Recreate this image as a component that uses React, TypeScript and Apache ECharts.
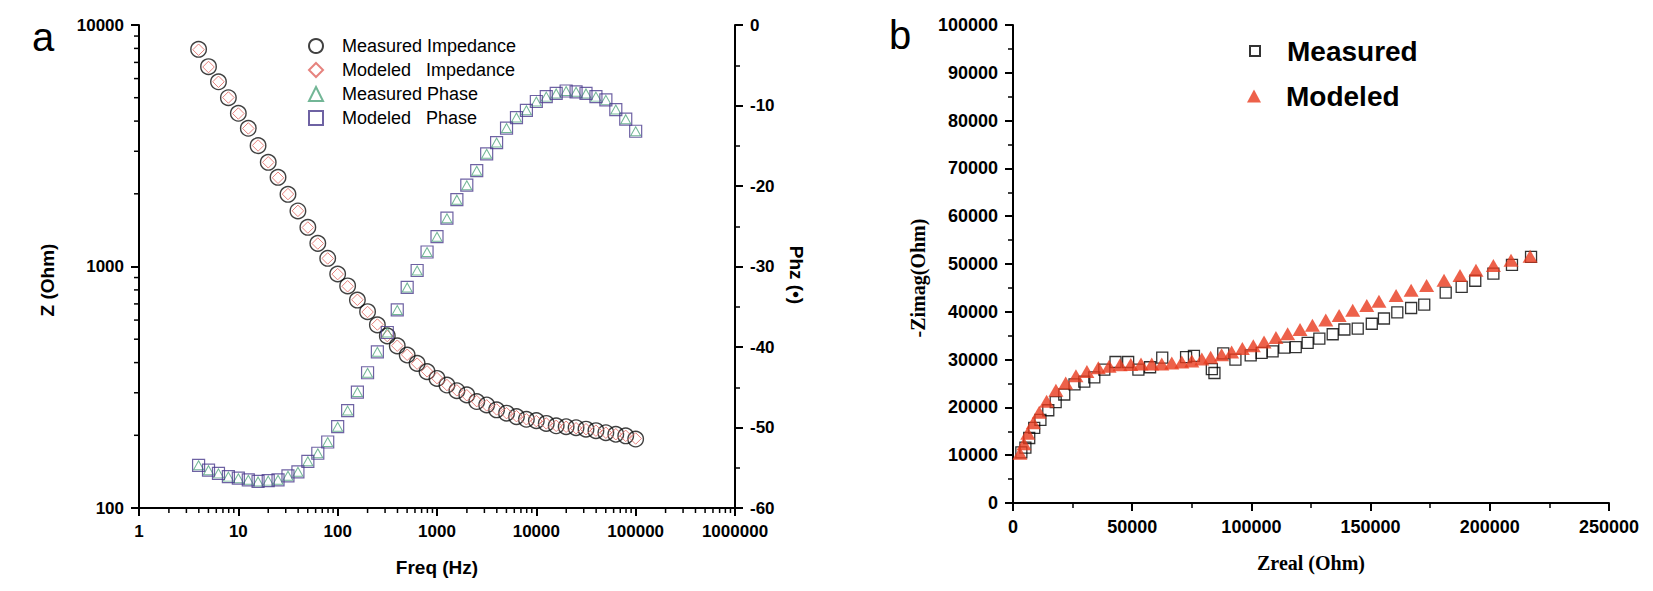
import React, { useEffect, useRef } from "react";
import * as echarts from "echarts";

// ---------- Panel a : Bode plot ----------
const FREQ = [
  3.98, 5.01, 6.31, 7.94, 10, 12.6, 15.8, 20.0, 25.1, 31.6, 39.8, 50.1, 63.1, 79.4, 100,
  126, 158, 200, 251, 316, 398, 501, 631, 794, 1000, 1259, 1585, 1995, 2512, 3162,
  3981, 5012, 6310, 7943, 10000, 12589, 15849, 19953, 25119, 31623, 39811, 50119, 63096, 79433, 100000,
];
const Z_MEASURED = [
  7930, 6720, 5820, 5000, 4310, 3735, 3165, 2700, 2340, 1990, 1698, 1453, 1247, 1081, 931,
  831, 726, 650, 573, 516, 469, 430, 397, 367, 344, 323, 306, 294, 276, 267,
  255, 247, 239, 233, 230, 224, 219, 217, 215, 212, 209, 205, 202, 199, 193,
];
const Z_MODELED = [
  7900, 6700, 5820, 5010, 4300, 3730, 3170, 2700, 2330, 1995, 1700, 1450, 1245, 1080, 930,
  828, 728, 648, 575, 515, 470, 431, 396, 368, 345, 323, 307, 293, 277, 266,
  256, 247, 240, 233, 229, 224, 219, 217, 214, 212, 209, 205, 202, 199, 194,
];
const PHASE_MEASURED = [
  -54.7, -55.3, -55.7, -56.1, -56.3, -56.5, -56.7, -56.6, -56.5, -56.0, -55.5, -54.2, -53.2, -51.8, -49.9,
  -47.9, -45.6, -43.2, -40.6, -38.2, -35.4, -32.6, -30.5, -28.2, -26.3, -24.0, -21.7, -19.9, -18.1, -16.0,
  -14.6, -12.8, -11.5, -10.6, -9.5, -8.9, -8.5, -8.2, -8.3, -8.5, -8.9, -9.3, -10.5, -11.7, -13.2,
];
const PHASE_MODELED = [
  -54.7, -55.3, -55.7, -56.1, -56.3, -56.5, -56.7, -56.6, -56.5, -56.0, -55.5, -54.2, -53.2, -51.8, -49.9,
  -47.9, -45.6, -43.2, -40.6, -38.2, -35.4, -32.6, -30.5, -28.2, -26.3, -24.0, -21.7, -19.9, -18.1, -16.0,
  -14.6, -12.8, -11.5, -10.6, -9.5, -8.9, -8.5, -8.2, -8.3, -8.5, -8.9, -9.3, -10.5, -11.7, -13.2,
];
const LOG_X_MINOR_TICKS = [
  2, 3, 4, 5, 6, 7, 8, 9,
  20, 30, 40, 50, 60, 70, 80, 90,
  200, 300, 400, 500, 600, 700, 800, 900,
  2000, 3000, 4000, 5000, 6000, 7000, 8000, 9000,
  20000, 30000, 40000, 50000, 60000, 70000, 80000, 90000,
  200000, 300000, 400000, 500000, 600000, 700000, 800000, 900000,
];
const LOG_Y_MINOR_TICKS = [200, 300, 400, 500, 600, 700, 800, 900, 2000, 3000, 4000, 5000, 6000, 7000, 8000, 9000];
const LEGEND_A = ["Measured Impedance", "Modeled   Impedance", "Measured Phase", "Modeled   Phase"];

// ---------- Panel b : Nyquist plot ----------
const ZREAL_MEASURED = [
  3500, 5200, 6800, 8900, 11500, 14800, 17900, 21500, 25800, 29900, 34100, 38300, 43000, 48300, 52600,
  57500, 62600, 72600, 75900, 83400, 84500, 88200, 93300, 99700, 104300, 108900, 113800, 118600, 123600, 128500,
  134100, 139000, 144600, 150500, 155600, 161200, 167000, 172500, 181500, 188200, 193900, 201500, 209300, 217300,
];
const ZIMAG_MEASURED = [
  10600, 11600, 13600, 15700, 17400, 19400, 21100, 22700, 24800, 25400, 26300, 27900, 29500, 29500, 27900,
  28400, 30400, 30500, 30800, 28000, 27200, 31300, 30000, 30900, 31400, 31700, 32500, 32600, 33500, 34400,
  35300, 36300, 36500, 37500, 38600, 39900, 40800, 41500, 44000, 45200, 46500, 48000, 49800, 51500,
];
const ZREAL_MODELED = [
  2900, 4600, 6200, 8500, 11000, 14100, 18000, 22100, 26400, 31000, 35800, 40300, 44900, 49400, 53700,
  58200, 62400, 66600, 70800, 75000, 79200, 82900, 87500, 91700, 96200, 100800, 105300, 110300, 115200, 120400,
  125600, 131200, 136800, 142500, 148400, 153500, 160700, 167000, 173500, 180800, 187500, 194200, 201500, 208900, 216900,
];
const ZIMAG_MODELED = [
  10400, 12400, 14600, 16800, 19000, 21300, 23600, 25100, 26600, 27500, 28300, 28600, 28900, 29000, 29100,
  29100, 29100, 29300, 29500, 29700, 30100, 30500, 31000, 31600, 32300, 32900, 33700, 34600, 35400, 36300,
  37200, 38300, 39200, 40300, 41300, 42200, 43400, 44500, 45500, 46600, 47600, 48700, 49700, 50800, 51600,
];

const SANS = "'Liberation Sans', Arial, sans-serif";
const SERIF = "'Liberation Serif', 'Times New Roman', serif";

const zip = (a: number[], b: number[]) => a.map((v, i) => [v, b[i]]);

const hollow = (color: string, width = 1) => ({
  color: "rgba(0,0,0,0)",
  borderColor: color,
  borderWidth: width,
});

const axisBase = (labelSize: number) => ({
  axisLine: { show: true, onZero: false, lineStyle: { color: "#000", width: 2 } },
  axisTick: { show: true, inside: false, length: 8, lineStyle: { color: "#000", width: 2 } },
  axisLabel: {
    color: "#000",
    fontFamily: SANS,
    fontWeight: "bold" as const,
    fontSize: labelSize,
    margin: 15,
    formatter: (v: number) => String(Math.round(v)),
  },
  splitLine: { show: false },
});

export default function App() {
  const ref = useRef<HTMLDivElement>(null);

  useEffect(() => {
    if (!ref.current) return;
    const chart = echarts.init(ref.current, undefined, { renderer: "svg" });

    const xMinor = (_p: any, api: any) => {
      const pt = api.coord([api.value(0), api.value(1)]);
      return {
        type: "line",
        shape: { x1: pt[0], y1: pt[1], x2: pt[0], y2: pt[1] + 5 },
        style: { stroke: "#000", lineWidth: 1.5 },
      };
    };
    const yMinor = (_p: any, api: any) => {
      const pt = api.coord([api.value(0), api.value(1)]);
      return {
        type: "line",
        shape: { x1: pt[0], y1: pt[1], x2: pt[0] - 5, y2: pt[1] },
        style: { stroke: "#000", lineWidth: 1.5 },
      };
    };

    const nameStyle = (family: string, size: number, padding: number[]) => ({
      color: "#000",
      fontFamily: family,
      fontWeight: "bold" as const,
      fontSize: size,
      padding,
    });

    const legendA = (name: string, top: number) => ({
      orient: "vertical",
      left: 308,
      top,
      padding: 0,
      itemWidth: 14,
      itemHeight: 14,
      selectedMode: false,
      data: [name],
      textStyle: { color: "#000", fontFamily: SANS, fontSize: 18, padding: [0, 0, 0, 14] },
    });

    const option: any = {
      animation: false,
      backgroundColor: "#fff",
      grid: [
        { left: 139, top: 25, width: 596, height: 483 },
        { left: 1013, top: 25, width: 596, height: 478 },
      ],
      xAxis: [
        {
          ...axisBase(17),
          type: "log",
          logBase: 10,
          gridIndex: 0,
          min: 1,
          max: 1000000,
          name: "Freq (Hz)",
          nameLocation: "middle",
          nameGap: 50,
          nameTextStyle: nameStyle(SANS, 19, [0, 0, 0, 0]),
        },
        {
          ...axisBase(18),
          type: "value",
          gridIndex: 1,
          min: 0,
          max: 250000,
          interval: 50000,
          minorTick: { show: true, splitNumber: 2, length: 5, lineStyle: { color: "#000", width: 1.5 } },
          name: "Zreal (Ohm)",
          nameLocation: "middle",
          nameGap: 50,
          nameTextStyle: nameStyle(SERIF, 20, [0, 0, 0, 0]),
        },
      ],
      yAxis: [
        {
          ...axisBase(17),
          type: "log",
          logBase: 10,
          gridIndex: 0,
          min: 100,
          max: 10000,
          name: "Z (Ohm)",
          nameLocation: "middle",
          nameGap: 82,
          nameTextStyle: nameStyle(SANS, 19, [0, 27, 0, 0]),
        },
        {
          ...axisBase(17),
          type: "value",
          gridIndex: 0,
          position: "right",
          min: -60,
          max: 0,
          interval: 10,
          minorTick: { show: true, splitNumber: 2, length: 5, lineStyle: { color: "#000", width: 1.5 } },
          name: "Phz (•)",
          nameLocation: "middle",
          nameRotate: -90,
          nameGap: 52,
          nameTextStyle: nameStyle(SANS, 19, [0, 0, 0, 17]),
        },
        {
          ...axisBase(18),
          type: "value",
          gridIndex: 1,
          min: 0,
          max: 100000,
          interval: 10000,
          minorTick: { show: true, splitNumber: 2, length: 5, lineStyle: { color: "#000", width: 1.5 } },
          name: "-Zimag(Ohm)",
          nameLocation: "middle",
          nameGap: 85,
          nameTextStyle: nameStyle(SERIF, 20, [0, 28, 0, 0]),
        },
      ],
      legend: [
        legendA(LEGEND_A[0], 37),
        legendA(LEGEND_A[1], 61),
        legendA(LEGEND_A[2], 85),
        legendA(LEGEND_A[3], 109),
        {
          orient: "vertical",
          left: 1249,
          top: 37,
          padding: 0,
          itemWidth: 10,
          itemHeight: 10,
          selectedMode: false,
          data: ["Measured"],
          textStyle: { color: "#000", fontFamily: SANS, fontWeight: "bold", fontSize: 28, padding: [0, 0, 0, 22] },
        },
        {
          orient: "vertical",
          left: 1247,
          top: 82,
          padding: 0,
          itemWidth: 14,
          itemHeight: 13,
          selectedMode: false,
          data: ["Modeled"],
          textStyle: { color: "#000", fontFamily: SANS, fontWeight: "bold", fontSize: 28, padding: [0, 0, 0, 20] },
        },
      ],
      graphic: [
        {
          type: "text",
          left: 32,
          top: 17,
          style: { text: "a", font: `40px ${SANS}`, fill: "#000" },
        },
        {
          type: "text",
          left: 889,
          top: 15,
          style: { text: "b", font: `40px ${SANS}`, fill: "#000" },
        },
      ],
      series: [
        {
          type: "custom",
          name: "xMinor",
          xAxisIndex: 0,
          yAxisIndex: 0,
          silent: true,
          clip: false,
          renderItem: xMinor,
          data: LOG_X_MINOR_TICKS.map((v) => [v, 100]),
        },
        {
          type: "custom",
          name: "yMinor",
          xAxisIndex: 0,
          yAxisIndex: 0,
          silent: true,
          clip: false,
          renderItem: yMinor,
          data: LOG_Y_MINOR_TICKS.map((v) => [1, v]),
        },
        {
          type: "scatter",
          name: LEGEND_A[0],
          xAxisIndex: 0,
          yAxisIndex: 0,
          symbol: "circle",
          symbolSize: 15.5,
          itemStyle: hollow("#111", 1.4),
          data: zip(FREQ, Z_MEASURED),
        },
        {
          type: "scatter",
          name: LEGEND_A[1],
          xAxisIndex: 0,
          yAxisIndex: 0,
          symbol: "diamond",
          symbolSize: 11.5,
          itemStyle: hollow("#e0645e", 1),
          data: zip(FREQ, Z_MODELED),
        },
        {
          type: "scatter",
          name: LEGEND_A[2],
          xAxisIndex: 0,
          yAxisIndex: 1,
          symbol: "triangle",
          symbolSize: [10, 9],
          itemStyle: hollow("#4fa47c", 1),
          data: zip(FREQ, PHASE_MEASURED),
        },
        {
          type: "scatter",
          name: LEGEND_A[3],
          xAxisIndex: 0,
          yAxisIndex: 1,
          symbol: "rect",
          symbolSize: 12,
          itemStyle: hollow("#4a3b8c", 1.2),
          data: zip(FREQ, PHASE_MODELED),
        },
        {
          type: "scatter",
          name: "Measured",
          xAxisIndex: 1,
          yAxisIndex: 2,
          symbol: "rect",
          symbolSize: 11,
          itemStyle: hollow("#000", 1.3),
          data: zip(ZREAL_MEASURED, ZIMAG_MEASURED),
        },
        {
          type: "scatter",
          name: "Modeled",
          xAxisIndex: 1,
          yAxisIndex: 2,
          symbol: "triangle",
          symbolSize: [15, 13],
          itemStyle: { color: "#e8391d" },
          data: zip(ZREAL_MODELED, ZIMAG_MODELED),
        },
      ],
    };

    chart.setOption(option);
    return () => chart.dispose();
  }, []);

  return (
    <div
      ref={ref}
      style={{ position: "fixed", left: 0, top: 0, width: 1653, height: 591, background: "#fff" }}
    />
  );
}
